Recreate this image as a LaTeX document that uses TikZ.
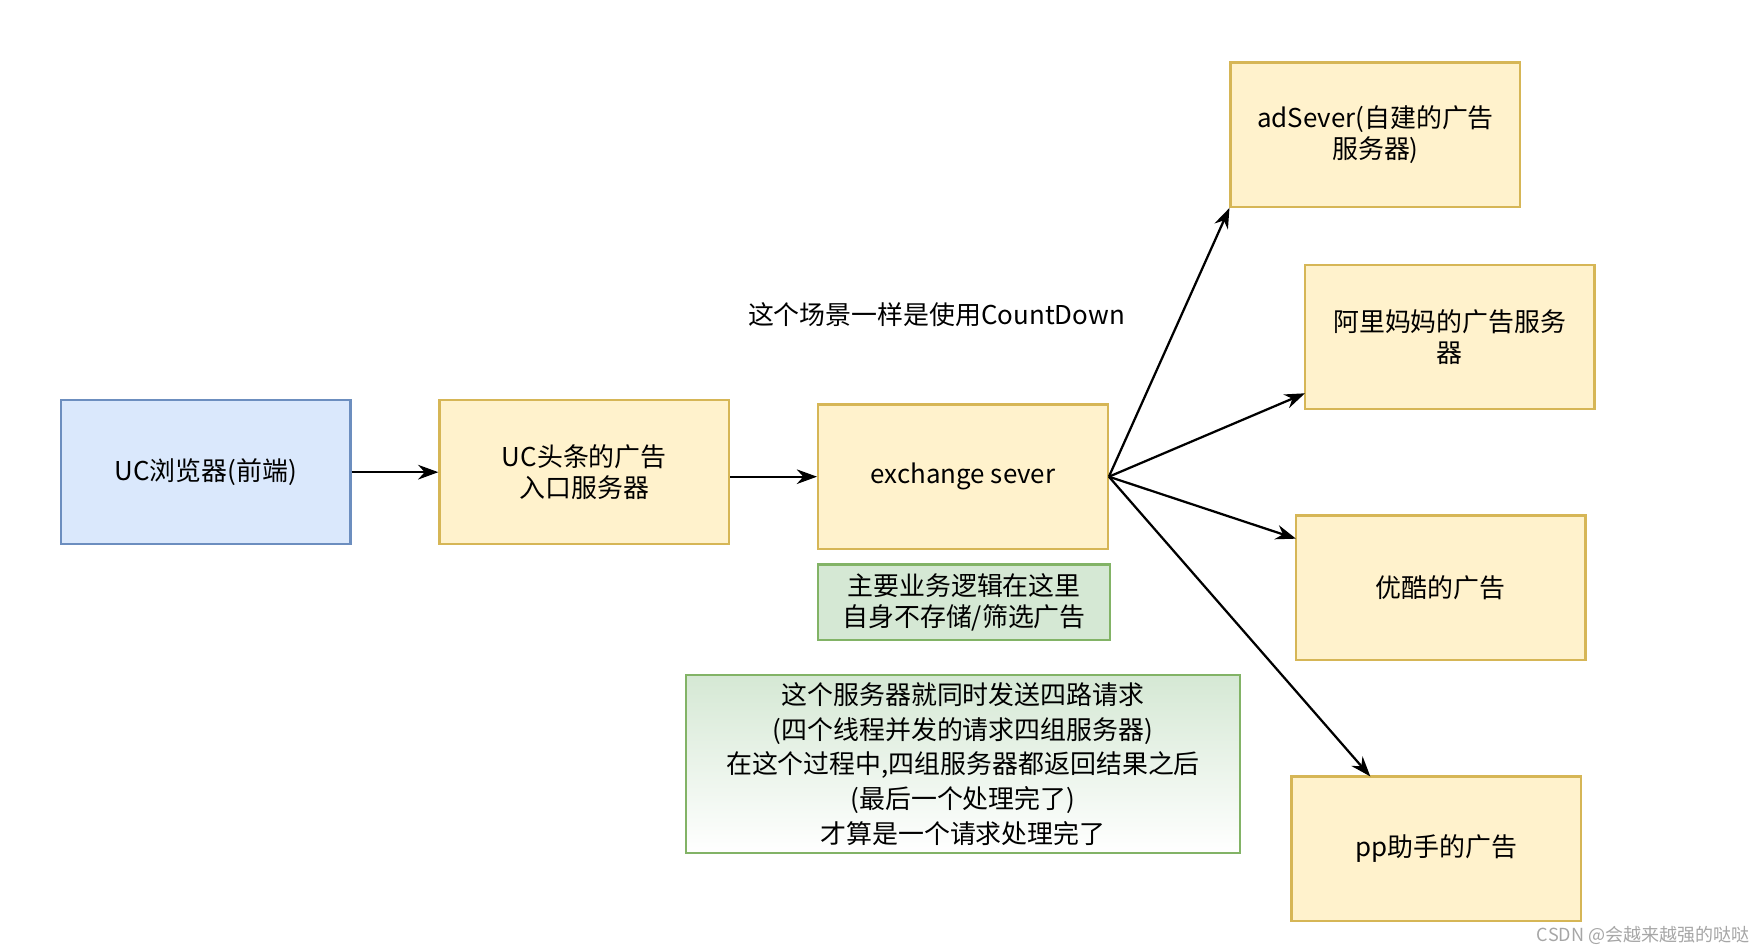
\documentclass[tikz,border=0pt]{standalone}
\usepackage{fontspec}
\setmainfont{Noto Sans CJK SC}
\usetikzlibrary{arrows.meta}
\definecolor{yf}{HTML}{FFF2CC}\definecolor{ys}{HTML}{D6B656}
\definecolor{bf}{HTML}{DAE8FC}\definecolor{bs}{HTML}{6C8EBF}
\definecolor{gf}{HTML}{D5E8D4}\definecolor{gs}{HTML}{82B366}
\begin{document}
\begin{tikzpicture}[x=1pt,y=-1pt,
  box/.style={draw=ys,fill=yf,line width=2pt,minimum width=257pt,minimum height=128pt,align=center,inner sep=2pt,font=\fontsize{23}{28}\selectfont},
  arr/.style={-{Stealth[length=18pt,width=13pt]},line width=2pt}]
\useasboundingbox (0,0) rectangle (1560,843);
\node[box,draw=bs,fill=bf] (uc) at (182.5,419) {UC浏览器(前端)};
\node[box] (entry) at (518.5,419) {UC头条的广告\\入口服务器};
\node[box] (ex) at (854.5,423) {exchange sever};
\node[draw=gs,fill=gf,line width=2pt,minimum width=259pt,minimum height=67pt,align=center,font=\fontsize{23}{27}\selectfont,inner sep=1pt] (g1) at (855.5,534.5) {主要业务逻辑在这里\\自身不存储/筛选广告};
\node[draw=gs,top color=gf,bottom color=white,line width=2pt,minimum width=491pt,minimum height=158pt,align=center,font=\fontsize{23}{31}\selectfont,inner sep=1pt] (g2) at (854.5,678) {这个服务器就同时发送四路请求\\(四个线程并发的请求四组服务器)\\在这个过程中,四组服务器都返回结果之后\\(最后一个处理完了)\\才算是一个请求处理完了};
\node[box] (ad) at (1220.5,119.5) {adSever(自建的广告\\服务器)};
\node[box] (ali) at (1286.5,299) {阿里妈妈的广告服务\\器};
\node[box] (yk) at (1278.5,521.5) {优酷的广告};
\node[box] (pp) at (1274.5,753) {pp助手的广告};
\node[font=\fontsize{23}{28}\selectfont] (t) at (831,279) {这个场景一样是使用CountDown};
\node[font=\fontsize{16}{20}\selectfont,text=gray!70,anchor=east] (wm) at (1556,830) {CSDN @会越来越强的哒哒};
\draw[arr] (uc.east) -- (entry.west);
\draw[arr] (entry.east|-ex) -- (ex.west);
\draw[arr] (ex.east) -- (ad.south west);
\draw[arr] (ex.east) -- (1158,349);
\draw[arr] (ex.east) -- (1150,478);
\draw[arr] (ex.east) -- (1216,689);
\end{tikzpicture}
\end{document}
